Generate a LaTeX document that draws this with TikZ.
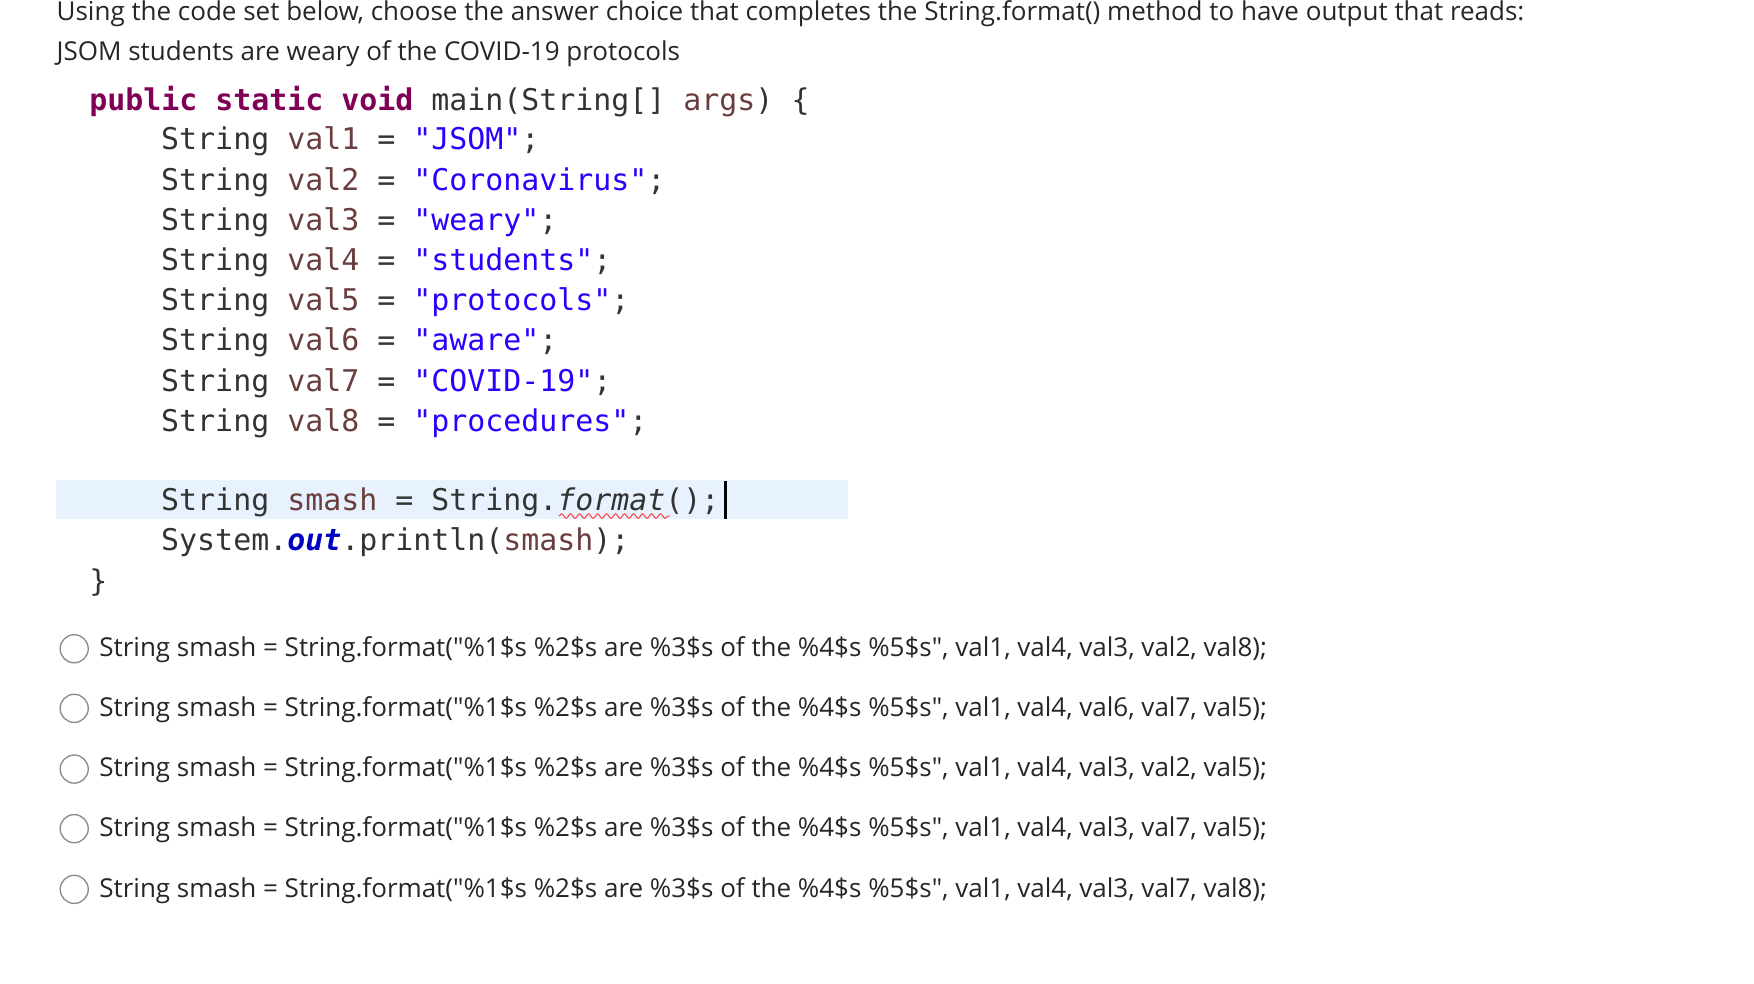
\documentclass[tikz,border=0pt]{standalone}
\usepackage{fontspec}
\setmainfont{Open Sans}
\setmonofont{DejaVu Sans Mono}
\usetikzlibrary{decorations.pathmorphing}
\definecolor{kw}{HTML}{7F0055}
\definecolor{st}{HTML}{2A00FF}
\definecolor{vr}{HTML}{6A3E3E}
\definecolor{fl}{HTML}{0000C0}
\definecolor{hl}{HTML}{E8F2FE}
\newcommand{\kw}[1]{\textcolor{kw}{\bfseries #1}}
\newcommand{\sq}[1]{\textcolor{st}{"#1"}}
\newcommand{\vr}[1]{\textcolor{vr}{#1}}
\newcommand{\qd}{\textquotedbl}
\begin{document}
\begin{tikzpicture}[x=0.5pt,y=-0.5pt,
  txt/.style={anchor=base west,inner sep=0pt,font=\fontsize{11.56}{14}\selectfont,text=black!85},
  code/.style={anchor=base west,inner sep=0pt,font=\ttfamily\fontsize{13.3}{16}\selectfont,text=black!80},
  radio/.style={circle,draw=black!45,fill=white,minimum size=12.5pt,inner sep=0pt,line width=0.6pt}]
\useasboundingbox (0,0) rectangle (1560,875);
\fill[hl] (50,427) rectangle (754,462);
\node[txt] (t1) at (50,18) {Using the code set below, choose the answer choice that completes the String.format() method to have output that reads:};
\node[txt] (t2) at (50,54) {JSOM students are weary of the COVID-19 protocols};
\node[code] (c0) at (79,98) {\kw{public} \kw{static} \kw{void} main(String[] \vr{args}) \{};
\node[code] (c1) at (143,133) {String \vr{val1} = \sq{JSOM};};
\node[code] (c2) at (143,169) {String \vr{val2} = \sq{Coronavirus};};
\node[code] (c3) at (143,205) {String \vr{val3} = \sq{weary};};
\node[code] (c4) at (143,241) {String \vr{val4} = \sq{students};};
\node[code] (c5) at (143,276) {String \vr{val5} = \sq{protocols};};
\node[code] (c6) at (143,312) {String \vr{val6} = \sq{aware};};
\node[code] (c7) at (143,348) {String \vr{val7} = \sq{COVID-19};};
\node[code] (c8) at (143,384) {String \vr{val8} = \sq{procedures};};
\node[code] (c9) at (143,454) {String \vr{smash} = String.\textit{format}();};
\node[code] (c10) at (143,490) {System.\textcolor{fl}{\bfseries\itshape out}.println(\vr{smash});};
\node[code] (c11) at (79,526) {\}};
\coordinate (wa) at (497,459);
\coordinate (wb) at (596,459);
\draw[red!70,line width=0.5pt,decorate,decoration={snake,amplitude=1pt,segment length=4pt}] (wa) -- (wb);
\coordinate (cu1) at (645,428);
\coordinate (cu2) at (645,462);
\draw[line width=1.2pt] (cu1) -- (cu2);
\foreach \y [count=\i] in {577,630,684,737,791}{
  \node[radio] (r\i) at (66,\y) {};
}
\node[txt] (a1) at (88,584) {String smash = String.format(\qd\%1\$s \%2\$s are \%3\$s of the \%4\$s \%5\$s\qd, val1, val4, val3, val2, val8);};
\node[txt] (a2) at (88,637) {String smash = String.format(\qd\%1\$s \%2\$s are \%3\$s of the \%4\$s \%5\$s\qd, val1, val4, val6, val7, val5);};
\node[txt] (a3) at (88,691) {String smash = String.format(\qd\%1\$s \%2\$s are \%3\$s of the \%4\$s \%5\$s\qd, val1, val4, val3, val2, val5);};
\node[txt] (a4) at (88,744) {String smash = String.format(\qd\%1\$s \%2\$s are \%3\$s of the \%4\$s \%5\$s\qd, val1, val4, val3, val7, val5);};
\node[txt] (a5) at (88,798) {String smash = String.format(\qd\%1\$s \%2\$s are \%3\$s of the \%4\$s \%5\$s\qd, val1, val4, val3, val7, val8);};
\end{tikzpicture}
\end{document}
